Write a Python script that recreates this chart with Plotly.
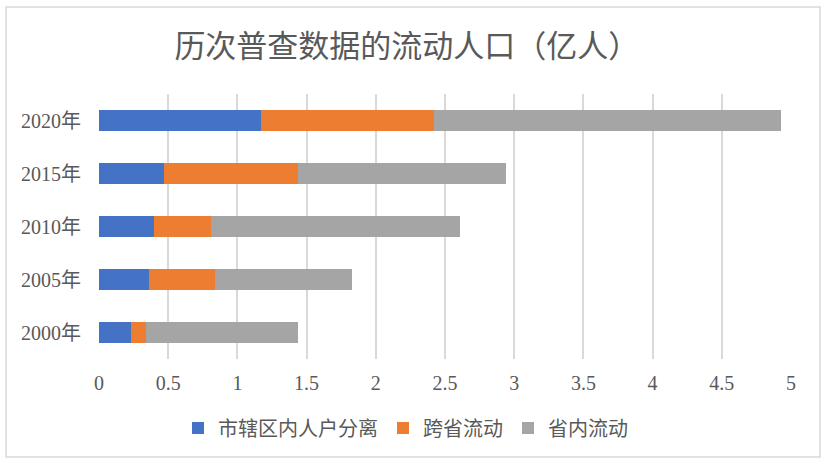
import plotly.graph_objects as go

categories = ["2000年", "2005年", "2010年", "2015年", "2020年"]
series_names = ["市辖区内人户分离", "跨省流动", "省内流动"]
intra_city = [0.23, 0.36, 0.40, 0.47, 1.17]
inter_prov = [0.11, 0.48, 0.41, 0.97, 1.25]
intra_prov = [1.10, 0.99, 1.80, 1.50, 2.51]
colors = ["#4472C4", "#ED7D31", "#A5A5A5"]
x_ticks = [0, 0.5, 1, 1.5, 2, 2.5, 3, 3.5, 4, 4.5, 5]

W, H = 827, 465
L, R, T, B = 99, 36, 94, 106

fig = go.Figure()
for name, vals, c in zip(series_names, [intra_city, inter_prov, intra_prov], colors):
    fig.add_trace(go.Bar(y=categories, x=vals, name=name, orientation="h",
                         marker=dict(color=c, line=dict(width=0))))

pw = W - L - R
ph = H - T - B
def px_x(p):
    return (p - L) / pw
def px_y(p):
    return (H - B - p) / ph

fig.update_layout(
    width=W, height=H,
    margin=dict(l=L, r=R, t=T, b=B),
    barmode="stack", bargap=0.6,
    paper_bgcolor="white", plot_bgcolor="white",
    title=dict(text="历次普查数据的流动人口（亿人）", x=0.492, xanchor="center",
               y=1 - 46 / H, yanchor="middle",
               font=dict(family="Noto Sans CJK SC", size=31, color="#595959")),
    xaxis=dict(range=[0, 5], tickvals=x_ticks, ticktext=[str(v) for v in x_ticks],
               showgrid=True, gridcolor="#d9d9d9", gridwidth=1.5,
               zeroline=False, showline=False, ticks="", ticklabelstandoff=10,
               tickfont=dict(family="Liberation Serif", size=20, color="#595959")),
    yaxis=dict(showgrid=False, showline=False, ticks="", ticklabelstandoff=17,
               tickfont=dict(family="Liberation Serif, Noto Sans CJK SC", size=20, color="#595959")),
    legend=dict(orientation="h", x=px_x(178), xanchor="left", y=px_y(428), yanchor="middle",
                font=dict(family="Noto Sans CJK SC", size=20, color="#595959"),
                itemwidth=30, traceorder="normal"),
    shapes=[dict(type="rect", xref="paper", yref="paper",
                 x0=px_x(6), x1=px_x(820), y0=px_y(457), y1=px_y(7),
                 line=dict(color="#d9d9d9", width=1.5), layer="below")],
)

fig.write_html("out.html")
